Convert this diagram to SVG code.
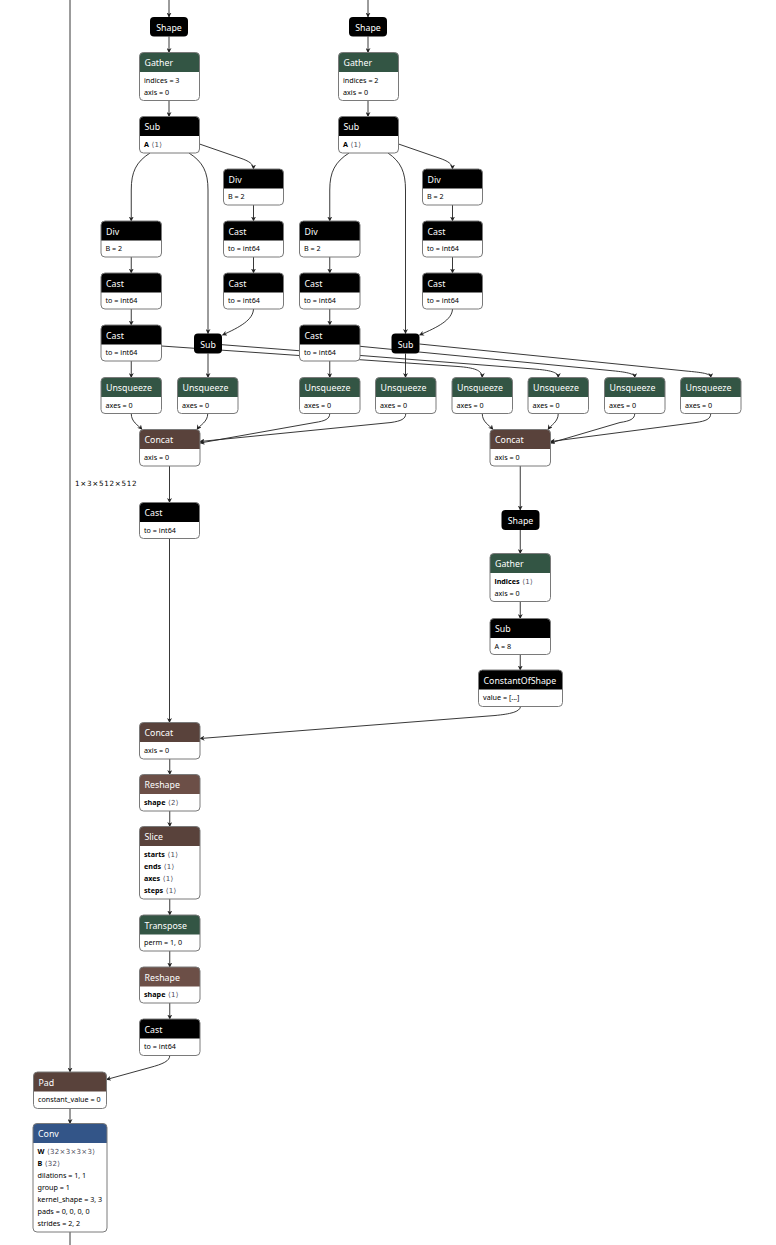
<svg xmlns="http://www.w3.org/2000/svg" width="776" height="1245" viewBox="0 0 776 1245">
<style>
.bg{fill:#fff}
.bd{fill:none;stroke:#7a7a7a;stroke-width:1}
.hk{fill:#000}.hg{fill:#335544}.ht{fill:#59423b}.hs{fill:#6c4f47}.hl{fill:#335588}
.tt{font-family:"Noto Sans","Liberation Sans",sans-serif;font-size:8.8px;fill:#fff}
.tm{text-anchor:middle}
.at{font-family:"Noto Sans","Liberation Sans",sans-serif;font-size:7.2px;fill:#000}
.ty{fill:#4a4a5a;font-family:"DejaVu Sans","Noto Sans",sans-serif;font-size:7px;letter-spacing:0.3px}
.b{font-weight:bold}
.e{fill:none;stroke:#222;stroke-width:0.9;marker-end:url(#ah)}
.en{fill:none;stroke:#222;stroke-width:0.9}
.lbl{font-family:"DejaVu Sans","Noto Sans",sans-serif;font-size:7.2px;fill:#000;letter-spacing:0.7px}
</style>
<defs>
<marker id="ah" viewBox="0 0 10 10" refX="9" refY="5" markerWidth="5" markerHeight="5" markerUnits="userSpaceOnUse" orient="auto">
<path d="M0,0 L10,5 L0,10 L3,5 z" fill="#222"/>
</marker>
</defs>
<rect width="776" height="1245" fill="#fff"/>
<g id="edges">
<path class="e" d="M169 0 V17"/>
<path class="e" d="M368 0 V17"/>
<path class="e" d="M70 0 V1072"/>
<text class="lbl" x="75" y="486">1×3×512×512</text>
<path class="e" d="M169 36.5 V52.5"/>
<path class="e" d="M169 100.5 V116.5"/>
<path class="e" d="M150 153 C136 162 131.25 172 131.25 190 V221"/>
<path class="e" d="M189 153 C203 162 208 172 208 190 V333.5"/>
<path class="e" d="M199.5 144 L240 158 C249 161 253.5 164 253.5 169"/>
<path class="e" d="M131.25 257 V273"/>
<path class="e" d="M131.25 309 V325"/>
<path class="e" d="M131.25 361 V377.5"/>
<path class="e" d="M253.5 205 V221"/>
<path class="e" d="M253.5 257 V273"/>
<path class="e" d="M253.5 309 C253 320 240 327 222.5 335"/>
<path class="e" d="M208 353.5 V377.5"/>
<path class="e" d="M368 36.5 V52.5"/>
<path class="e" d="M368 100.5 V116.5"/>
<path class="e" d="M349 153 C335 162 329.75 172 329.75 190 V221"/>
<path class="e" d="M388 153 C401 162 405.5 172 405.5 190 V333.5"/>
<path class="e" d="M398.5 144 L439 158 C448 161 452.5 164 452.5 169"/>
<path class="e" d="M329.75 257 V273"/>
<path class="e" d="M329.75 309 V325"/>
<path class="e" d="M329.75 361 V377.5"/>
<path class="e" d="M452.5 205 V221"/>
<path class="e" d="M452.5 257 V273"/>
<path class="e" d="M452.5 309 C452 320 438 327 419.5 335"/>
<path class="e" d="M405.5 353.5 V377.5"/>
<path class="e" d="M161.5 346 L458 366.5 C474 367.8 482.25 370 482.25 377.5"/>
<path class="e" d="M222 344.7 L534 369 C550 370.3 558.25 372 558.25 377.5"/>
<path class="e" d="M360 346.3 L610 370.5 C626 372 634.75 373.5 634.75 377.5"/>
<path class="e" d="M419.5 344 L686 371 C702 372.5 710.75 373.5 710.75 377.5"/>
<path class="e" d="M131.25 413.5 C131.25 422 138 425 142 429.5"/>
<path class="e" d="M207.75 413.5 C207.75 422 200 425 197 429.5"/>
<path class="e" d="M329.75 413.5 C329.75 419 325 421 315 422.5 L200 443"/>
<path class="e" d="M405.75 413.5 C405.75 419 401 421 391 422.5 L200 441.5"/>
<path class="e" d="M482.25 413.5 C482.25 422 489 425 493 429.5"/>
<path class="e" d="M558.25 413.5 C558.25 422 551 425 548 429.5"/>
<path class="e" d="M634.75 413.5 C634.75 419 630 421 620 422.5 L550.5 443"/>
<path class="e" d="M710.75 413.5 C710.75 419 706 421 696 422.5 L550.5 441.5"/>
<path class="e" d="M169.5 466 V502.5"/>
<path class="e" d="M169.5 538.5 V722.5"/>
<path class="e" d="M520.25 466 V510"/>
<path class="e" d="M520.25 530 V553.5"/>
<path class="e" d="M520.25 601.5 V618.5"/>
<path class="e" d="M520.25 654.5 V670"/>
<path class="e" d="M520.5 706.5 C520 712 510 714 495 715.5 L200 738.5"/>
<path class="e" d="M169.75 759 V774.5"/>
<path class="e" d="M169.75 811 V826.5"/>
<path class="e" d="M169.75 899 V915"/>
<path class="e" d="M169.75 951 V967"/>
<path class="e" d="M169.75 1003 V1019"/>
<path class="e" d="M169.75 1055.5 C169.75 1061 163 1064 150 1067.5 L106.5 1079.5"/>
<path class="e" d="M70 1108.5 V1123.5"/>
<path class="en" d="M70 1232 V1245"/>
</g>

<g id="shape1"><rect class="hk" x="150" y="17" width="38" height="19.5" rx="4"/><text class="tt tm" x="169" y="31">Shape</text></g>
<g id="gather1"><rect class="bg" x="139.5" y="52.5" width="60" height="48" rx="4"/><path class="hg" d="M139.5,72v-15.5a4,4 0 0 1 4,-4h52a4,4 0 0 1 4,4v15.5z"/><rect class="bd" x="139.5" y="52.5" width="60" height="48" rx="4"/><text class="tt" x="144.5" y="66">Gather</text><text class="at" x="144" y="82.8">indices = 3</text><text class="at" x="144" y="94.8">axis = 0</text></g>
<g id="sub1"><rect class="bg" x="139.5" y="116.5" width="60" height="36.5" rx="4"/><path class="hk" d="M139.5,136v-15.5a4,4 0 0 1 4,-4h52a4,4 0 0 1 4,4v15.5z"/><rect class="bd" x="139.5" y="116.5" width="60" height="36.5" rx="4"/><text class="tt" x="144.5" y="130">Sub</text><text class="at" x="144" y="146.8"><tspan class="b">A</tspan><tspan class="ty"> ⟨1⟩</tspan></text></g>
<g id="div1r"><rect class="bg" x="223.5" y="169" width="60" height="36" rx="4"/><path class="hk" d="M223.5,188.5v-15.5a4,4 0 0 1 4,-4h52a4,4 0 0 1 4,4v15.5z"/><rect class="bd" x="223.5" y="169" width="60" height="36" rx="4"/><text class="tt" x="228.5" y="182.5">Div</text><text class="at" x="228" y="199.3">B = 2</text></g>
<g id="div1l"><rect class="bg" x="101" y="221" width="60.5" height="36" rx="4"/><path class="hk" d="M101,240.5v-15.5a4,4 0 0 1 4,-4h52.5a4,4 0 0 1 4,4v15.5z"/><rect class="bd" x="101" y="221" width="60.5" height="36" rx="4"/><text class="tt" x="106" y="234.5">Div</text><text class="at" x="105.5" y="251.3">B = 2</text></g>
<g id="cast1ra"><rect class="bg" x="223.5" y="221" width="60" height="36" rx="4"/><path class="hk" d="M223.5,240.5v-15.5a4,4 0 0 1 4,-4h52a4,4 0 0 1 4,4v15.5z"/><rect class="bd" x="223.5" y="221" width="60" height="36" rx="4"/><text class="tt" x="228.5" y="234.5">Cast</text><text class="at" x="228" y="251.3">to = int64</text></g>
<g id="cast1la"><rect class="bg" x="101" y="273" width="60.5" height="36" rx="4"/><path class="hk" d="M101,292.5v-15.5a4,4 0 0 1 4,-4h52.5a4,4 0 0 1 4,4v15.5z"/><rect class="bd" x="101" y="273" width="60.5" height="36" rx="4"/><text class="tt" x="106" y="286.5">Cast</text><text class="at" x="105.5" y="303.3">to = int64</text></g>
<g id="cast1rb"><rect class="bg" x="223.5" y="273" width="60" height="36" rx="4"/><path class="hk" d="M223.5,292.5v-15.5a4,4 0 0 1 4,-4h52a4,4 0 0 1 4,4v15.5z"/><rect class="bd" x="223.5" y="273" width="60" height="36" rx="4"/><text class="tt" x="228.5" y="286.5">Cast</text><text class="at" x="228" y="303.3">to = int64</text></g>
<g id="cast1lb"><rect class="bg" x="101" y="325" width="60.5" height="36" rx="4"/><path class="hk" d="M101,344.5v-15.5a4,4 0 0 1 4,-4h52.5a4,4 0 0 1 4,4v15.5z"/><rect class="bd" x="101" y="325" width="60.5" height="36" rx="4"/><text class="tt" x="106" y="338.5">Cast</text><text class="at" x="105.5" y="355.3">to = int64</text></g>
<g id="subs1"><rect class="hk" x="194" y="333.5" width="28" height="20" rx="4"/><text class="tt tm" x="208" y="347.5">Sub</text></g>

<g id="shape2"><rect class="hk" x="349" y="17" width="38" height="19.5" rx="4"/><text class="tt tm" x="368" y="31">Shape</text></g>
<g id="gather2"><rect class="bg" x="338.5" y="52.5" width="60" height="48" rx="4"/><path class="hg" d="M338.5,72v-15.5a4,4 0 0 1 4,-4h52a4,4 0 0 1 4,4v15.5z"/><rect class="bd" x="338.5" y="52.5" width="60" height="48" rx="4"/><text class="tt" x="343.5" y="66">Gather</text><text class="at" x="343" y="82.8">indices = 2</text><text class="at" x="343" y="94.8">axis = 0</text></g>
<g id="sub2"><rect class="bg" x="338.5" y="116.5" width="60" height="36.5" rx="4"/><path class="hk" d="M338.5,136v-15.5a4,4 0 0 1 4,-4h52a4,4 0 0 1 4,4v15.5z"/><rect class="bd" x="338.5" y="116.5" width="60" height="36.5" rx="4"/><text class="tt" x="343.5" y="130">Sub</text><text class="at" x="343" y="146.8"><tspan class="b">A</tspan><tspan class="ty"> ⟨1⟩</tspan></text></g>
<g id="div2r"><rect class="bg" x="422.5" y="169" width="60" height="36" rx="4"/><path class="hk" d="M422.5,188.5v-15.5a4,4 0 0 1 4,-4h52a4,4 0 0 1 4,4v15.5z"/><rect class="bd" x="422.5" y="169" width="60" height="36" rx="4"/><text class="tt" x="427.5" y="182.5">Div</text><text class="at" x="427" y="199.3">B = 2</text></g>
<g id="div2l"><rect class="bg" x="299.5" y="221" width="60.5" height="36" rx="4"/><path class="hk" d="M299.5,240.5v-15.5a4,4 0 0 1 4,-4h52.5a4,4 0 0 1 4,4v15.5z"/><rect class="bd" x="299.5" y="221" width="60.5" height="36" rx="4"/><text class="tt" x="304.5" y="234.5">Div</text><text class="at" x="304" y="251.3">B = 2</text></g>
<g id="cast2ra"><rect class="bg" x="422.5" y="221" width="60" height="36" rx="4"/><path class="hk" d="M422.5,240.5v-15.5a4,4 0 0 1 4,-4h52a4,4 0 0 1 4,4v15.5z"/><rect class="bd" x="422.5" y="221" width="60" height="36" rx="4"/><text class="tt" x="427.5" y="234.5">Cast</text><text class="at" x="427" y="251.3">to = int64</text></g>
<g id="cast2la"><rect class="bg" x="299.5" y="273" width="60.5" height="36" rx="4"/><path class="hk" d="M299.5,292.5v-15.5a4,4 0 0 1 4,-4h52.5a4,4 0 0 1 4,4v15.5z"/><rect class="bd" x="299.5" y="273" width="60.5" height="36" rx="4"/><text class="tt" x="304.5" y="286.5">Cast</text><text class="at" x="304" y="303.3">to = int64</text></g>
<g id="cast2rb"><rect class="bg" x="422.5" y="273" width="60" height="36" rx="4"/><path class="hk" d="M422.5,292.5v-15.5a4,4 0 0 1 4,-4h52a4,4 0 0 1 4,4v15.5z"/><rect class="bd" x="422.5" y="273" width="60" height="36" rx="4"/><text class="tt" x="427.5" y="286.5">Cast</text><text class="at" x="427" y="303.3">to = int64</text></g>
<g id="cast2lb"><rect class="bg" x="299.5" y="325" width="60.5" height="36" rx="4"/><path class="hk" d="M299.5,344.5v-15.5a4,4 0 0 1 4,-4h52.5a4,4 0 0 1 4,4v15.5z"/><rect class="bd" x="299.5" y="325" width="60.5" height="36" rx="4"/><text class="tt" x="304.5" y="338.5">Cast</text><text class="at" x="304" y="355.3">to = int64</text></g>
<g id="subs2"><rect class="hk" x="391.5" y="333.5" width="28" height="20" rx="4"/><text class="tt tm" x="405.5" y="347.5">Sub</text></g>

<g id="unsq1"><rect class="bg" x="101" y="377.5" width="60.5" height="36" rx="4"/><path class="hg" d="M101,397v-15.5a4,4 0 0 1 4,-4h52.5a4,4 0 0 1 4,4v15.5z"/><rect class="bd" x="101" y="377.5" width="60.5" height="36" rx="4"/><text class="tt" x="106" y="391">Unsqueeze</text><text class="at" x="105.5" y="407.8">axes = 0</text></g>
<g id="unsq2"><rect class="bg" x="177.5" y="377.5" width="60.5" height="36" rx="4"/><path class="hg" d="M177.5,397v-15.5a4,4 0 0 1 4,-4h52.5a4,4 0 0 1 4,4v15.5z"/><rect class="bd" x="177.5" y="377.5" width="60.5" height="36" rx="4"/><text class="tt" x="182.5" y="391">Unsqueeze</text><text class="at" x="182" y="407.8">axes = 0</text></g>
<g id="unsq3"><rect class="bg" x="299.5" y="377.5" width="60.5" height="36" rx="4"/><path class="hg" d="M299.5,397v-15.5a4,4 0 0 1 4,-4h52.5a4,4 0 0 1 4,4v15.5z"/><rect class="bd" x="299.5" y="377.5" width="60.5" height="36" rx="4"/><text class="tt" x="304.5" y="391">Unsqueeze</text><text class="at" x="304" y="407.8">axes = 0</text></g>
<g id="unsq4"><rect class="bg" x="375.5" y="377.5" width="60.5" height="36" rx="4"/><path class="hg" d="M375.5,397v-15.5a4,4 0 0 1 4,-4h52.5a4,4 0 0 1 4,4v15.5z"/><rect class="bd" x="375.5" y="377.5" width="60.5" height="36" rx="4"/><text class="tt" x="380.5" y="391">Unsqueeze</text><text class="at" x="380" y="407.8">axes = 0</text></g>
<g id="unsq5"><rect class="bg" x="452" y="377.5" width="60.5" height="36" rx="4"/><path class="hg" d="M452,397v-15.5a4,4 0 0 1 4,-4h52.5a4,4 0 0 1 4,4v15.5z"/><rect class="bd" x="452" y="377.5" width="60.5" height="36" rx="4"/><text class="tt" x="457" y="391">Unsqueeze</text><text class="at" x="456.5" y="407.8">axes = 0</text></g>
<g id="unsq6"><rect class="bg" x="528" y="377.5" width="60.5" height="36" rx="4"/><path class="hg" d="M528,397v-15.5a4,4 0 0 1 4,-4h52.5a4,4 0 0 1 4,4v15.5z"/><rect class="bd" x="528" y="377.5" width="60.5" height="36" rx="4"/><text class="tt" x="533" y="391">Unsqueeze</text><text class="at" x="532.5" y="407.8">axes = 0</text></g>
<g id="unsq7"><rect class="bg" x="604.5" y="377.5" width="60.5" height="36" rx="4"/><path class="hg" d="M604.5,397v-15.5a4,4 0 0 1 4,-4h52.5a4,4 0 0 1 4,4v15.5z"/><rect class="bd" x="604.5" y="377.5" width="60.5" height="36" rx="4"/><text class="tt" x="609.5" y="391">Unsqueeze</text><text class="at" x="609" y="407.8">axes = 0</text></g>
<g id="unsq8"><rect class="bg" x="680.5" y="377.5" width="60.5" height="36" rx="4"/><path class="hg" d="M680.5,397v-15.5a4,4 0 0 1 4,-4h52.5a4,4 0 0 1 4,4v15.5z"/><rect class="bd" x="680.5" y="377.5" width="60.5" height="36" rx="4"/><text class="tt" x="685.5" y="391">Unsqueeze</text><text class="at" x="685" y="407.8">axes = 0</text></g>

<g id="concat1"><rect class="bg" x="139.5" y="429.5" width="60.5" height="36.5" rx="4"/><path class="ht" d="M139.5,449v-15.5a4,4 0 0 1 4,-4h52.5a4,4 0 0 1 4,4v15.5z"/><rect class="bd" x="139.5" y="429.5" width="60.5" height="36.5" rx="4"/><text class="tt" x="144.5" y="443">Concat</text><text class="at" x="144" y="459.8">axis = 0</text></g>
<g id="concat2"><rect class="bg" x="490" y="429.5" width="60.5" height="36.5" rx="4"/><path class="ht" d="M490,449v-15.5a4,4 0 0 1 4,-4h52.5a4,4 0 0 1 4,4v15.5z"/><rect class="bd" x="490" y="429.5" width="60.5" height="36.5" rx="4"/><text class="tt" x="495" y="443">Concat</text><text class="at" x="494.5" y="459.8">axis = 0</text></g>
<g id="cast4"><rect class="bg" x="139.5" y="502.5" width="60" height="36" rx="4"/><path class="hk" d="M139.5,522v-15.5a4,4 0 0 1 4,-4h52a4,4 0 0 1 4,4v15.5z"/><rect class="bd" x="139.5" y="502.5" width="60" height="36" rx="4"/><text class="tt" x="144.5" y="516">Cast</text><text class="at" x="144" y="532.8">to = int64</text></g>
<g id="shape3"><rect class="hk" x="501.5" y="510" width="38" height="20" rx="4"/><text class="tt tm" x="520.5" y="524">Shape</text></g>
<g id="gather3"><rect class="bg" x="490" y="553.5" width="60.5" height="48" rx="4"/><path class="hg" d="M490,573v-15.5a4,4 0 0 1 4,-4h52.5a4,4 0 0 1 4,4v15.5z"/><rect class="bd" x="490" y="553.5" width="60.5" height="48" rx="4"/><text class="tt" x="495" y="567">Gather</text><text class="at" x="494.5" y="583.8"><tspan class="b">indices</tspan><tspan class="ty"> ⟨1⟩</tspan></text><text class="at" x="494.5" y="595.8">axis = 0</text></g>
<g id="sub3"><rect class="bg" x="490" y="618.5" width="60.5" height="36" rx="4"/><path class="hk" d="M490,638v-15.5a4,4 0 0 1 4,-4h52.5a4,4 0 0 1 4,4v15.5z"/><rect class="bd" x="490" y="618.5" width="60.5" height="36" rx="4"/><text class="tt" x="495" y="632">Sub</text><text class="at" x="494.5" y="648.8">A = 8</text></g>
<g id="constantofshape"><rect class="bg" x="478.5" y="670" width="84" height="36.5" rx="4"/><path class="hk" d="M478.5,689.5v-15.5a4,4 0 0 1 4,-4h76a4,4 0 0 1 4,4v15.5z"/><rect class="bd" x="478.5" y="670" width="84" height="36.5" rx="4"/><text class="tt" x="483.5" y="683.5">ConstantOfShape</text><text class="at" x="483" y="700.3">value = [...]</text></g>
<g id="concat3"><rect class="bg" x="139.5" y="722.5" width="60.5" height="36.5" rx="4"/><path class="ht" d="M139.5,742v-15.5a4,4 0 0 1 4,-4h52.5a4,4 0 0 1 4,4v15.5z"/><rect class="bd" x="139.5" y="722.5" width="60.5" height="36.5" rx="4"/><text class="tt" x="144.5" y="736">Concat</text><text class="at" x="144" y="752.8">axis = 0</text></g>
<g id="reshape1"><rect class="bg" x="139.5" y="774.5" width="60.5" height="36.5" rx="4"/><path class="hs" d="M139.5,794v-15.5a4,4 0 0 1 4,-4h52.5a4,4 0 0 1 4,4v15.5z"/><rect class="bd" x="139.5" y="774.5" width="60.5" height="36.5" rx="4"/><text class="tt" x="144.5" y="788">Reshape</text><text class="at" x="144" y="804.8"><tspan class="b">shape</tspan><tspan class="ty"> ⟨2⟩</tspan></text></g>
<g id="slice"><rect class="bg" x="139.5" y="826.5" width="60.5" height="72.5" rx="4"/><path class="ht" d="M139.5,846v-15.5a4,4 0 0 1 4,-4h52.5a4,4 0 0 1 4,4v15.5z"/><rect class="bd" x="139.5" y="826.5" width="60.5" height="72.5" rx="4"/><text class="tt" x="144.5" y="840">Slice</text><text class="at" x="144" y="857"><tspan class="b">starts</tspan><tspan class="ty"> ⟨1⟩</tspan></text><text class="at" x="144" y="869"><tspan class="b">ends</tspan><tspan class="ty"> ⟨1⟩</tspan></text><text class="at" x="144" y="881"><tspan class="b">axes</tspan><tspan class="ty"> ⟨1⟩</tspan></text><text class="at" x="144" y="893"><tspan class="b">steps</tspan><tspan class="ty"> ⟨1⟩</tspan></text></g>
<g id="transpose"><rect class="bg" x="139.5" y="915" width="60.5" height="36" rx="4"/><path class="hg" d="M139.5,934.5v-15.5a4,4 0 0 1 4,-4h52.5a4,4 0 0 1 4,4v15.5z"/><rect class="bd" x="139.5" y="915" width="60.5" height="36" rx="4"/><text class="tt" x="144.5" y="928.5">Transpose</text><text class="at" x="144" y="945.3">perm = 1, 0</text></g>
<g id="reshape2"><rect class="bg" x="139.5" y="967" width="60.5" height="36" rx="4"/><path class="hs" d="M139.5,986.5v-15.5a4,4 0 0 1 4,-4h52.5a4,4 0 0 1 4,4v15.5z"/><rect class="bd" x="139.5" y="967" width="60.5" height="36" rx="4"/><text class="tt" x="144.5" y="980.5">Reshape</text><text class="at" x="144" y="997.3"><tspan class="b">shape</tspan><tspan class="ty"> ⟨1⟩</tspan></text></g>
<g id="cast5"><rect class="bg" x="139.5" y="1019" width="60.5" height="36.5" rx="4"/><path class="hk" d="M139.5,1038.5v-15.5a4,4 0 0 1 4,-4h52.5a4,4 0 0 1 4,4v15.5z"/><rect class="bd" x="139.5" y="1019" width="60.5" height="36.5" rx="4"/><text class="tt" x="144.5" y="1032.5">Cast</text><text class="at" x="144" y="1049.3">to = int64</text></g>
<g id="pad"><rect class="bg" x="33.5" y="1072" width="73" height="36.5" rx="4"/><path class="ht" d="M33.5,1091.5v-15.5a4,4 0 0 1 4,-4h65a4,4 0 0 1 4,4v15.5z"/><rect class="bd" x="33.5" y="1072" width="73" height="36.5" rx="4"/><text class="tt" x="38.5" y="1085.5">Pad</text><text class="at" x="38" y="1102.3">constant_value = 0</text></g>
<g id="conv"><rect class="bg" x="33" y="1123.5" width="74" height="108.5" rx="4"/><path class="hl" d="M33,1143v-15.5a4,4 0 0 1 4,-4h66a4,4 0 0 1 4,4v15.5z"/><rect class="bd" x="33" y="1123.5" width="74" height="108.5" rx="4"/><text class="tt" x="38" y="1137">Conv</text><text class="at" x="37.5" y="1153.5"><tspan class="b">W</tspan><tspan class="ty"> ⟨32×3×3×3⟩</tspan></text><text class="at" x="37.5" y="1165.5"><tspan class="b">B</tspan><tspan class="ty"> ⟨32⟩</tspan></text><text class="at" x="37.5" y="1177.5">dilations = 1, 1</text><text class="at" x="37.5" y="1189.5">group = 1</text><text class="at" x="37.5" y="1201.5">kernel_shape = 3, 3</text><text class="at" x="37.5" y="1213.5">pads = 0, 0, 0, 0</text><text class="at" x="37.5" y="1225.5">strides = 2, 2</text></g>
</svg>
